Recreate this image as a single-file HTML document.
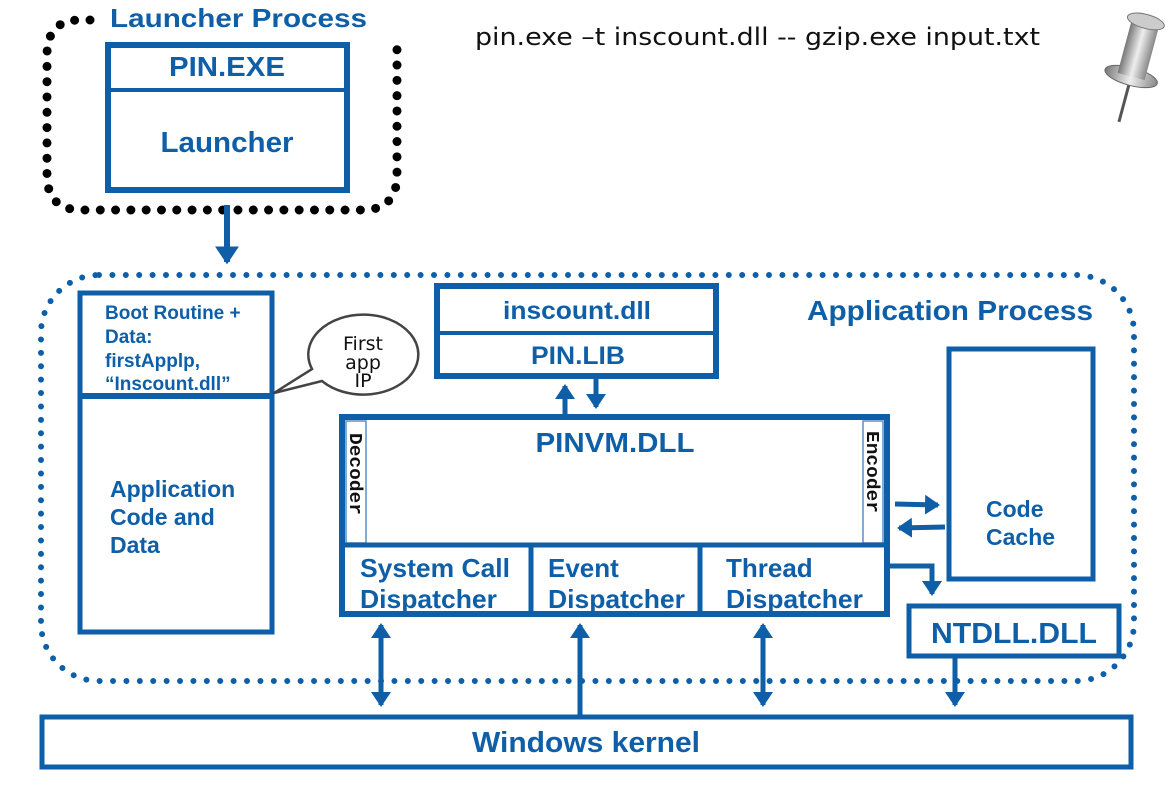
<!DOCTYPE html>
<html><head><meta charset="utf-8"><style>
html,body{margin:0;padding:0;background:#fff;}
svg{display:block;}
text{font-family:"Liberation Sans",Arial,sans-serif;font-weight:bold;fill:#0e5fa8;}
</style></head><body>
<svg width="1176" height="789" viewBox="0 0 1176 789" xmlns="http://www.w3.org/2000/svg">
<defs>
<marker id="ah" markerWidth="4" markerHeight="4" refX="2.6" refY="2" orient="auto" markerUnits="strokeWidth">
<path d="M0,0 L3,2 L0,4 z" fill="#0e5fa8"/></marker>
<linearGradient id="pg" x1="0" x2="1"><stop offset="0" stop-color="#777"/><stop offset="0.5" stop-color="#eee"/><stop offset="1" stop-color="#888"/></linearGradient>
</defs>

<path d="M90,20 L80,20 Q47,20 47,55 L47,175 Q47,210 82,210 L362,210 Q397,210 397,175 L397,35" fill="none" stroke="#000" stroke-width="9" stroke-linecap="round" stroke-dasharray="0 15.3"/>
<text x="110" y="27" font-size="26" textLength="257" lengthAdjust="spacingAndGlyphs">Launcher Process</text>

<rect x="108" y="45" width="239" height="145" fill="#fff" stroke="#0e5fa8" stroke-width="6"/>
<line x1="108" y1="90" x2="347" y2="90" stroke="#0e5fa8" stroke-width="4"/>
<text x="227" y="76" font-size="28" text-anchor="middle" textLength="116" lengthAdjust="spacingAndGlyphs">PIN.EXE</text>
<text x="227" y="152" font-size="29" text-anchor="middle" textLength="133" lengthAdjust="spacingAndGlyphs">Launcher</text>

<line x1="227" y1="205" x2="227" y2="262" stroke="#0e5fa8" stroke-width="6" marker-end="url(#ah)"/>

<text x="475" y="45" font-size="24" style="font-family:'DejaVu Sans',sans-serif;font-weight:normal;fill:#111" textLength="565" lengthAdjust="spacingAndGlyphs">pin.exe –t inscount.dll -- gzip.exe input.txt</text>

<g transform="translate(1135,62) rotate(15)">
<line x1="0" y1="15" x2="0" y2="62" stroke="#555" stroke-width="3"/>
<ellipse cx="0" cy="15" rx="27" ry="9" fill="url(#pg)" stroke="#666"/>
<rect x="-14" y="-42" width="28" height="57" fill="url(#pg)"/>
<ellipse cx="0" cy="-42" rx="19" ry="7" fill="#ccc" stroke="#777"/>
</g>

<rect x="41" y="275" width="1093" height="406" rx="58" ry="58" fill="none" stroke="#0e5fa8" stroke-width="6" stroke-linecap="round" stroke-dasharray="0 13.4"/>
<text x="807" y="320" font-size="28" textLength="286" lengthAdjust="spacingAndGlyphs">Application Process</text>

<rect x="80" y="293" width="192" height="339" fill="#fff" stroke="#0e5fa8" stroke-width="5"/>
<line x1="80" y1="396" x2="272" y2="396" stroke="#0e5fa8" stroke-width="6"/>
<text font-size="19"><tspan x="105" y="319">Boot Routine +</tspan><tspan x="105" y="343">Data:</tspan><tspan x="105" y="367">firstApplp,</tspan><tspan x="105" y="390">“Inscount.dll”</tspan></text>
<text font-size="23"><tspan x="110" y="497">Application</tspan><tspan x="110" y="525">Code and</tspan><tspan x="110" y="553">Data</tspan></text>

<path d="M312,369 A55,40 0 1 1 322,381 L274,393 Z" fill="#fff" stroke="#444" stroke-width="2.5"/>
<text font-size="19" text-anchor="middle" style="font-family:'DejaVu Sans',sans-serif;font-weight:normal;fill:#111"><tspan x="363" y="350">First</tspan><tspan x="363" y="369">app</tspan><tspan x="363" y="387">IP</tspan></text>

<rect x="437" y="286" width="279" height="90" fill="#fff" stroke="#0e5fa8" stroke-width="6"/>
<line x1="437" y1="333" x2="716" y2="333" stroke="#0e5fa8" stroke-width="4"/>
<text x="577" y="319" font-size="25" text-anchor="middle" textLength="148" lengthAdjust="spacingAndGlyphs">inscount.dll</text>
<text x="578" y="364" font-size="25" text-anchor="middle" textLength="94" lengthAdjust="spacingAndGlyphs">PIN.LIB</text>
<line x1="565" y1="415" x2="565" y2="386" stroke="#0e5fa8" stroke-width="5" marker-end="url(#ah)"/>
<line x1="596" y1="379" x2="596" y2="407" stroke="#0e5fa8" stroke-width="5" marker-end="url(#ah)"/>

<rect x="342" y="417" width="545" height="197" fill="#fff" stroke="#0e5fa8" stroke-width="6"/>
<rect x="346" y="421" width="20" height="122" fill="#fff" stroke="#5b8fc3" stroke-width="1.5"/>
<rect x="863" y="421" width="20" height="122" fill="#fff" stroke="#5b8fc3" stroke-width="1.5"/>
<line x1="342" y1="545" x2="887" y2="545" stroke="#0e5fa8" stroke-width="5"/>
<line x1="531" y1="545" x2="531" y2="614" stroke="#0e5fa8" stroke-width="5"/>
<line x1="700" y1="545" x2="700" y2="614" stroke="#0e5fa8" stroke-width="5"/>
<text x="615" y="452" font-size="28" text-anchor="middle" textLength="159" lengthAdjust="spacingAndGlyphs">PINVM.DLL</text>
<text transform="translate(350,433) rotate(90)" font-size="18" style="font-family:'Liberation Mono',monospace;fill:#111" textLength="82" lengthAdjust="spacingAndGlyphs">Decoder</text>
<text transform="translate(867,431) rotate(90)" font-size="18" style="font-family:'Liberation Mono',monospace;fill:#111" textLength="82" lengthAdjust="spacingAndGlyphs">Encoder</text>
<text font-size="26"><tspan x="360" y="577" textLength="150" lengthAdjust="spacingAndGlyphs">System Call</tspan><tspan x="360" y="608" textLength="137" lengthAdjust="spacingAndGlyphs">Dispatcher</tspan></text>
<text font-size="26"><tspan x="548" y="577">Event</tspan><tspan x="548" y="608" textLength="137" lengthAdjust="spacingAndGlyphs">Dispatcher</tspan></text>
<text font-size="26"><tspan x="726" y="577">Thread</tspan><tspan x="726" y="608" textLength="137" lengthAdjust="spacingAndGlyphs">Dispatcher</tspan></text>

<rect x="949" y="349" width="144" height="230" fill="#fff" stroke="#0e5fa8" stroke-width="5"/>
<text font-size="23"><tspan x="986" y="517">Code</tspan><tspan x="986" y="545">Cache</tspan></text>
<line x1="895" y1="504" x2="938" y2="505" stroke="#0e5fa8" stroke-width="5" marker-end="url(#ah)"/>
<line x1="945" y1="527" x2="899" y2="528" stroke="#0e5fa8" stroke-width="5" marker-end="url(#ah)"/>
<polyline points="887,566 932,566 932,594" fill="none" stroke="#0e5fa8" stroke-width="5" marker-end="url(#ah)"/>

<rect x="909" y="606" width="210" height="50" fill="#fff" stroke="#0e5fa8" stroke-width="5"/>
<text x="1014" y="643" font-size="29" text-anchor="middle" textLength="166" lengthAdjust="spacingAndGlyphs">NTDLL.DLL</text>

<rect x="42" y="717" width="1089" height="50" fill="#fff" stroke="#0e5fa8" stroke-width="5"/>
<text x="586" y="752" font-size="29" text-anchor="middle" textLength="228" lengthAdjust="spacingAndGlyphs">Windows kernel</text>

<line x1="381" y1="640" x2="381" y2="625" stroke="#0e5fa8" stroke-width="5" marker-end="url(#ah)"/>
<line x1="381" y1="630" x2="381" y2="705" stroke="#0e5fa8" stroke-width="5" marker-end="url(#ah)"/>
<line x1="580" y1="715" x2="580" y2="625" stroke="#0e5fa8" stroke-width="5" marker-end="url(#ah)"/>
<line x1="763" y1="640" x2="763" y2="625" stroke="#0e5fa8" stroke-width="5" marker-end="url(#ah)"/>
<line x1="763" y1="630" x2="763" y2="705" stroke="#0e5fa8" stroke-width="5" marker-end="url(#ah)"/>
<line x1="955" y1="658" x2="955" y2="705" stroke="#0e5fa8" stroke-width="5" marker-end="url(#ah)"/>
</svg>
</body></html>
